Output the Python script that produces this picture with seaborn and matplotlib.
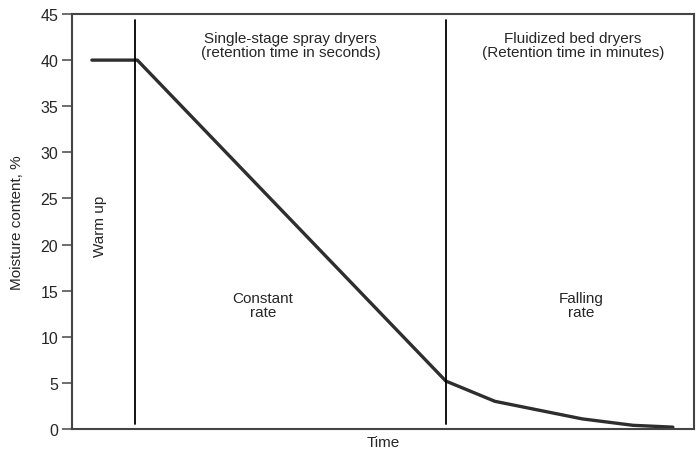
import numpy as np
import pandas as pd
import matplotlib
matplotlib.use("Agg")
import matplotlib.pyplot as plt
import seaborn as sns

# drying curve (time in arbitrary units, 0-100 across the axis)
time = [3.2, 10.5, 60.1, 68.0, 82.0, 90.2, 96.6]
moisture = [40.0, 40.0, 5.2, 3.0, 1.1, 0.4, 0.2]
stage_bounds = [10.2, 60.1]
yticks = [0, 5, 10, 15, 20, 25, 30, 35, 40, 45]

sns.set_theme(style="white")
plt.rcParams['font.family'] = ['Liberation Sans Narrow', 'Liberation Sans', 'DejaVu Sans']

df = pd.DataFrame({"Time": time, "Moisture": moisture})

fig = plt.figure(figsize=(7, 4.6), dpi=100)
ax = fig.add_axes([72/700, 30/460, 622/700, 415/460])

sns.lineplot(data=df, x="Time", y="Moisture", ax=ax, color="#2e2e2e", linewidth=2.4)

for xb in stage_bounds:
    ax.plot([xb, xb], [0.5, 44.3], color="black", linewidth=1.3)

ax.set_xlim(0, 100)
ax.set_ylim(0, 45)
ax.set_yticks(yticks)
ax.set_xticks([])
ax.tick_params(axis="y", left=True, length=7, width=1.2, color="#555555", labelsize=11.5, pad=3)
for s in ax.spines.values():
    s.set_color("#444444")
    s.set_linewidth(1.5)

ax.set_xlabel("Time", fontsize=11, labelpad=4)
ax.set_ylabel("Moisture content, %", fontsize=11, labelpad=12)

ax.text(35.1, 41.6, "Single-stage spray dryers\n(retention time in seconds)", ha="center", va="center",
        fontsize=11, linespacing=1.0)
ax.text(80.5, 41.6, "Fluidized bed dryers\n(Retention time in minutes)", ha="center", va="center",
        fontsize=11, linespacing=1.0)
ax.text(4.5, 22.1, "Warm up", rotation=90, ha="center", va="center", fontsize=11)
ax.text(30.7, 13.4, "Constant\nrate", ha="center", va="center", fontsize=11, linespacing=1.0)
ax.text(81.8, 13.4, "Falling\nrate", ha="center", va="center", fontsize=11, linespacing=1.0)

fig.savefig("out.png", dpi=100)
